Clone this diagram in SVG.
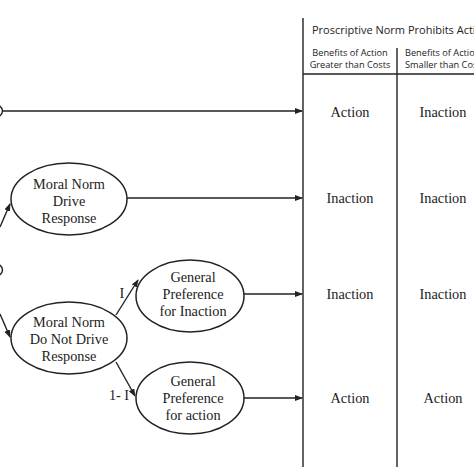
<svg xmlns="http://www.w3.org/2000/svg" width="474" height="474" viewBox="0 0 474 474">
<defs>
<marker id="ah" markerWidth="8" markerHeight="6" refX="7" refY="3" orient="auto" markerUnits="userSpaceOnUse">
<path d="M0,0 L8,3 L0,6 z" fill="#222"/>
</marker>
<style>
.ln{stroke:#222;stroke-width:1.4;fill:none}
.el{stroke:#222;stroke-width:1.5;fill:#fff}
.t{font-family:"Liberation Serif","Times New Roman",serif;font-size:14.3px;fill:#222;text-anchor:middle}
.h{font-family:"Open Sans","Liberation Sans",sans-serif;fill:#222}
</style>
</defs>
<rect width="474" height="474" fill="#fff"/>
<g id="table">
<line class="ln" x1="303" y1="18" x2="303" y2="467"/>
<line class="ln" x1="397" y1="48" x2="397" y2="467"/>
<line class="ln" x1="303" y1="74" x2="474" y2="74"/>
<text class="h" x="312" y="34" font-size="11">Proscriptive Norm Prohibits Action</text>
<text class="h" x="350" y="56" font-size="9.2" text-anchor="middle">Benefits of Action</text>
<text class="h" x="350" y="68" font-size="9.2" text-anchor="middle">Greater than Costs</text>
<text class="h" x="405" y="56" font-size="9.2">Benefits of Action</text>
<text class="h" x="405" y="68" font-size="9.2">Smaller than Costs</text>
<text class="t" x="350" y="117">Action</text>
<text class="t" x="443" y="117">Inaction</text>
<text class="t" x="350" y="203">Inaction</text>
<text class="t" x="443" y="203">Inaction</text>
<text class="t" x="350" y="299">Inaction</text>
<text class="t" x="443" y="299">Inaction</text>
<text class="t" x="350" y="403">Action</text>
<text class="t" x="443" y="403">Action</text>
</g>
<g id="connectors">
<line class="ln" x1="3" y1="111" x2="302" y2="111" marker-end="url(#ah)"/>
<line class="ln" x1="127" y1="198" x2="302" y2="198" marker-end="url(#ah)"/>
<line class="ln" x1="0" y1="227" x2="10" y2="204" marker-end="url(#ah)"/>
<line class="ln" x1="0" y1="314" x2="10" y2="337" marker-end="url(#ah)"/>
<line class="ln" x1="116" y1="315" x2="138" y2="280" marker-end="url(#ah)"/>
<line class="ln" x1="116" y1="362" x2="135" y2="396" marker-end="url(#ah)"/>
<line class="ln" x1="243" y1="294" x2="302" y2="294" marker-end="url(#ah)"/>
<line class="ln" x1="243" y1="398" x2="302" y2="398" marker-end="url(#ah)"/>
<text class="t" x="122" y="298">I</text>
<text class="t" x="119" y="400">1- I</text>
</g>
<g id="partial-top">
<ellipse class="el" cx="-30" cy="111" rx="32.5" ry="12"/>
</g>
<g id="partial-mid">
<ellipse class="el" cx="-30" cy="270" rx="32.5" ry="12"/>
</g>
<g id="moral-drive">
<ellipse class="el" cx="69" cy="199" rx="58" ry="36"/>
<text class="t" x="69" y="189">Moral Norm</text>
<text class="t" x="69" y="206">Drive</text>
<text class="t" x="69" y="223">Response</text>
</g>
<g id="moral-not-drive">
<ellipse class="el" cx="69" cy="338" rx="58" ry="36"/>
<text class="t" x="69" y="327">Moral Norm</text>
<text class="t" x="69" y="344">Do Not Drive</text>
<text class="t" x="69" y="361">Response</text>
</g>
<g id="pref-inaction">
<ellipse class="el" cx="190" cy="296" rx="54" ry="36"/>
<text class="t" x="193" y="282">General</text>
<text class="t" x="193" y="299">Preference</text>
<text class="t" x="193" y="316">for Inaction</text>
</g>
<g id="pref-action">
<ellipse class="el" cx="190" cy="398" rx="54" ry="36"/>
<text class="t" x="193" y="386">General</text>
<text class="t" x="193" y="403">Preference</text>
<text class="t" x="193" y="420">for action</text>
</g>
</svg>
